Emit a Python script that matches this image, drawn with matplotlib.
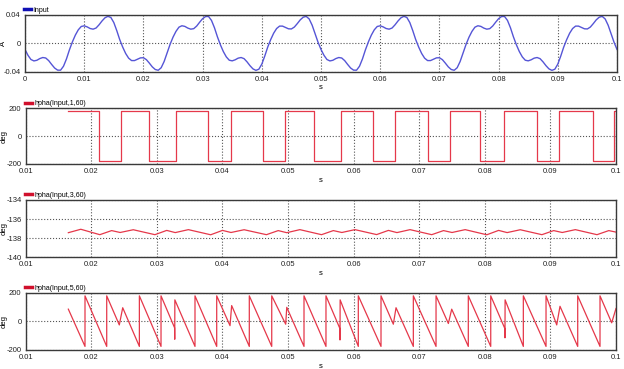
import numpy as np
import matplotlib
matplotlib.use('Agg')
import matplotlib.pyplot as plt
from matplotlib.lines import Line2D
from matplotlib.ticker import FormatStrFormatter

plt.rcParams['font.family'] = ['Liberation Sans', 'DejaVu Sans']

input_step = 0.0005
input_ma = [
    -8.7, -16.9, -22.8, -24.8, -23.9, -21.5, -20.0, -20.7, -24.4, -29.8, -34.8, -37.8, -37.9, -32.3, -22.0, -9.2,
    2.0, 11.6, 19.1, 23.8, 24.7, 23.2, 20.9, 20.0, 21.6, 26.1, 31.5, 36.0, 38.1, 36.5, 29.3, 17.9, 5.2,
    -5.3, -14.3, -20.9, -24.3, -24.3, -22.4, -20.5, -20.3, -23.0, -27.9, -33.2, -36.9, -38.0, -34.4, -25.6, -13.6, -1.5,
    8.7, 16.9, 22.8, 24.8, 23.9, 21.5, 20.0, 20.7, 24.4, 29.8, 34.8, 37.8, 37.9, 32.3, 22.0, 9.2,
    -2.0, -11.6, -19.1, -23.8, -24.7, -23.2, -20.9, -20.0, -21.6, -26.1, -31.5, -36.0, -38.1, -36.5, -29.3, -17.9, -5.2,
    5.3, 14.3, 20.9, 24.3, 24.3, 22.4, 20.5, 20.3, 23.0, 27.9, 33.2, 36.9, 38.0, 34.4, 25.6, 13.6, 1.5,
    -8.7, -16.9, -22.8, -24.8, -23.9, -21.5, -20.0, -20.7, -24.4, -29.8, -34.8, -37.8, -37.9, -32.3, -22.0, -9.2,
    2.0, 11.6, 19.1, 23.8, 24.7, 23.2, 20.9, 20.0, 21.6, 26.1, 31.5, 36.0, 38.1, 36.5, 29.3, 17.9, 5.2,
    -5.3, -14.3, -20.9, -24.3, -24.3, -22.4, -20.5, -20.3, -23.0, -27.9, -33.2, -36.9, -38.0, -34.4, -25.6, -13.6, -1.5,
    8.7, 16.9, 22.8, 24.8, 23.9, 21.5, 20.0, 20.7, 24.4, 29.8, 34.8, 37.8, 37.9, 32.3, 22.0, 9.2,
    -2.0, -11.6, -19.1, -23.8, -24.7, -23.2, -20.9, -20.0, -21.6, -26.1, -31.5, -36.0, -38.1, -36.5, -29.3, -17.9, -5.2,
    5.3, 14.3, 20.9, 24.3, 24.3, 22.4, 20.5, 20.3, 23.0, 27.9, 33.2, 36.9, 38.0, 34.4, 25.6, 13.6, 1.5,
    -8.7,
]

# hpha(Input,1,60): switching instants and levels
ph1_t = [0.0165, 0.02118, 0.02448, 0.0288, 0.03287, 0.03775, 0.04125, 0.04623, 0.04953, 0.05396, 0.05803,
         0.0629, 0.0663, 0.07129, 0.07469, 0.07926, 0.08297, 0.0879, 0.09135, 0.09645, 0.0997, 0.1]
ph1_deg = [180, -180, 180, -180, 180, -180, 180, -180, 180, -180, 180,
           -180, 180, -180, 180, -180, 180, -180, 180, -180, 180, 180]

# hpha(Input,3,60)
ph3_t_ms = [16.5, 18.4, 21.3, 23.1, 24.4, 26.4, 29.7, 31.5, 32.8, 34.8, 38.2, 40.0, 41.3, 43.3,
            46.7, 48.5, 49.8, 51.8, 55.1, 56.9, 58.2, 60.2, 63.5, 65.3, 66.6, 68.6, 71.9, 73.7,
            75.0, 77.0, 80.3, 82.1, 83.4, 85.4, 88.7, 90.5, 91.8, 93.8, 97.1, 98.9, 100.0]
ph3_deg = [-137.44, -137.08, -137.65, -137.22, -137.42, -137.13, -137.65, -137.2, -137.43, -137.12,
           -137.66, -137.2, -137.42, -137.13, -137.65, -137.22, -137.44, -137.12, -137.65, -137.22,
           -137.42, -137.12, -137.64, -137.2, -137.43, -137.12, -137.65, -137.22, -137.42, -137.12,
           -137.66, -137.2, -137.43, -137.13, -137.65, -137.22, -137.42, -137.12, -137.65, -137.22,
           -137.38]

# hpha(Input,5,60)
ph5_t = [0.0165, 0.01904, 0.01904, 0.02235, 0.02235, 0.02427, 0.02479, 0.02733, 0.02733,
         0.03063, 0.03063, 0.0327, 0.03272, 0.03274, 0.03581, 0.03581, 0.03912, 0.03912,
         0.04115, 0.0414, 0.04409, 0.04409, 0.04751, 0.04751, 0.04964, 0.0498, 0.05243, 0.05243,
         0.05578, 0.05578, 0.0579, 0.05792, 0.05794, 0.06071, 0.06071, 0.06417, 0.06417,
         0.06605, 0.06646, 0.0691, 0.0691, 0.07256, 0.07256, 0.07444, 0.07495, 0.07748, 0.07748,
         0.0809, 0.0809, 0.08305, 0.08307, 0.08309, 0.08587, 0.08587, 0.08933, 0.08933,
         0.09096, 0.09146, 0.09416, 0.09416, 0.09756, 0.09756, 0.09934, 0.1]
ph5_deg = [85, -175, 178, -175, 178, -25, 95, -175, 178,
           -175, 178, -45, -125, 150, -175, 178, -175, 178,
           -30, 110, -175, 178, -175, 178, -20, 98, -175, 178,
           -175, 178, -50, -130, 150, -175, 178, -175, 178,
           -20, 95, -175, 178, -175, 178, -15, 85, -175, 178,
           -175, 178, -50, -115, 150, -175, 178, -175, 178,
           -25, 105, -175, 178, -175, 178, -10, 90]

top_xticks = [0, 0.01, 0.02, 0.03, 0.04, 0.05, 0.06, 0.07, 0.08, 0.09, 0.1]
xticks = top_xticks[1:]

blue = '#5555d6'
red = '#e5384a'

fig = plt.figure(figsize=(6.24, 3.69), dpi=100)

def make_axes(rect, xlim, xticks, ylim, yticks, ylabel, label, swatch, ylab_x):
    ax = fig.add_axes(rect)
    ax.set_xlim(*xlim)
    ax.set_ylim(*ylim)
    ax.set_xticks(xticks)
    ax.set_yticks(yticks)
    ax.xaxis.set_major_formatter(FormatStrFormatter('%g'))
    ax.yaxis.set_major_formatter(FormatStrFormatter('%g'))
    ax.tick_params(length=0, labelsize=5.5, pad=3, colors='#222222')
    ax.grid(True, linestyle=':', color='#555555', linewidth=0.8)
    for s in ax.spines.values():
        s.set_color('#3a3a3a')
        s.set_linewidth(1.0)
    ax.set_ylabel(ylabel, fontsize=5.5)
    ax.yaxis.set_label_coords(ylab_x, 0.5)
    ax.set_xlabel('s', fontsize=5.5, labelpad=1)
    h = [Line2D([], [], color=swatch, lw=2.5)]
    ax.legend(h, [label], loc='lower left', bbox_to_anchor=(-0.002, 1.02), frameon=False,
              fontsize=5, handlelength=1.1, handletextpad=0.3, borderaxespad=0, borderpad=0)
    return ax

ax1 = make_axes([0.0401, 0.8057, 0.9487, 0.1537], (0, 0.1), top_xticks, (-0.04, 0.04),
                [-0.04, 0, 0.04], 'A', 'Input', '#1010b4', -0.03)
ax1.plot(np.arange(len(input_ma)) * input_step, np.array(input_ma) / 1000.0, color=blue, lw=1.0)

ax2 = make_axes([0.0412, 0.5556, 0.9460, 0.151], (0.01, 0.1), xticks, (-200, 200),
                [-200, 0, 200], 'deg', 'hpha(Input,1,60)', '#d0102c', -0.03)
ax2.plot(ph1_t, ph1_deg, color=red, lw=0.9, drawstyle='steps-post')

ax3 = make_axes([0.0412, 0.3035, 0.9460, 0.1545], (0.01, 0.1), xticks, (-140, -134),
                [-140, -138, -136, -134], 'deg', 'hpha(Input,3,60)', '#d0102c', -0.03)
ax3.plot(np.array(ph3_t_ms) / 1000.0, ph3_deg, color=red, lw=0.9)

ax4 = make_axes([0.0412, 0.0515, 0.9460, 0.1553], (0.01, 0.1), xticks, (-200, 200),
                [-200, 0, 200], 'deg', 'hpha(Input,5,60)', '#d0102c', -0.03)
ax4.plot(ph5_t, ph5_deg, color=red, lw=0.9)

fig.savefig('out.png', dpi=100)
